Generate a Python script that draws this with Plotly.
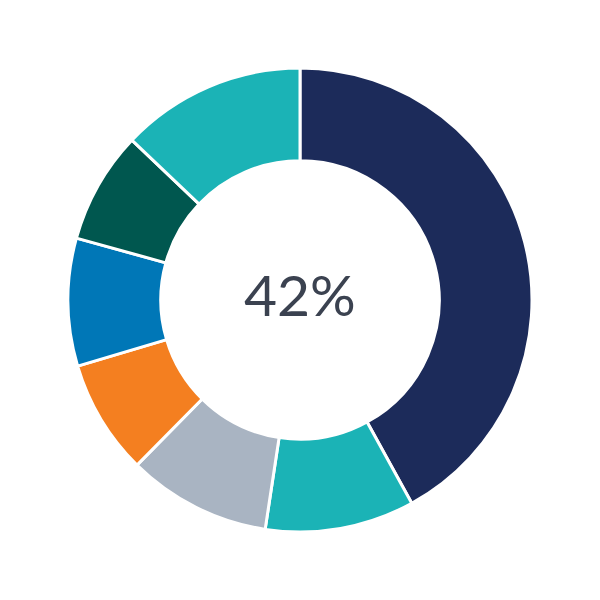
import plotly.graph_objects as go

# slice shares, clockwise from 12 o'clock
labels = ["A", "B", "C", "D", "E", "F", "G"]
values = [42, 10.4, 10, 8, 8.9, 7.8, 12.9]
colors = ["#1c2b5a", "#1bb3b6", "#a9b4c2", "#f47f20", "#0077b7", "#00574f", "#1bb3b6"]
center_text = "42%"

fig = go.Figure(go.Pie(
    labels=labels,
    values=values,
    hole=0.6,
    sort=False,
    direction="clockwise",
    rotation=0,
    marker=dict(colors=colors, line=dict(color="white", width=3)),
    textinfo="none",
    hoverinfo="label+percent",
    showlegend=False,
))

fig.add_annotation(
    text=center_text, x=0.5, y=0.5, xref="paper", yref="paper",
    showarrow=False, yshift=6,
    font=dict(family="Lato", size=57, color="#3b4250"),
)

# page body adds 8px, so margins are offset to keep the ring centred
fig.update_layout(
    width=600, height=600,
    margin=dict(l=60, r=76, t=60, b=76),
    paper_bgcolor="white",
    plot_bgcolor="white",
)

fig.write_html("out.html")
